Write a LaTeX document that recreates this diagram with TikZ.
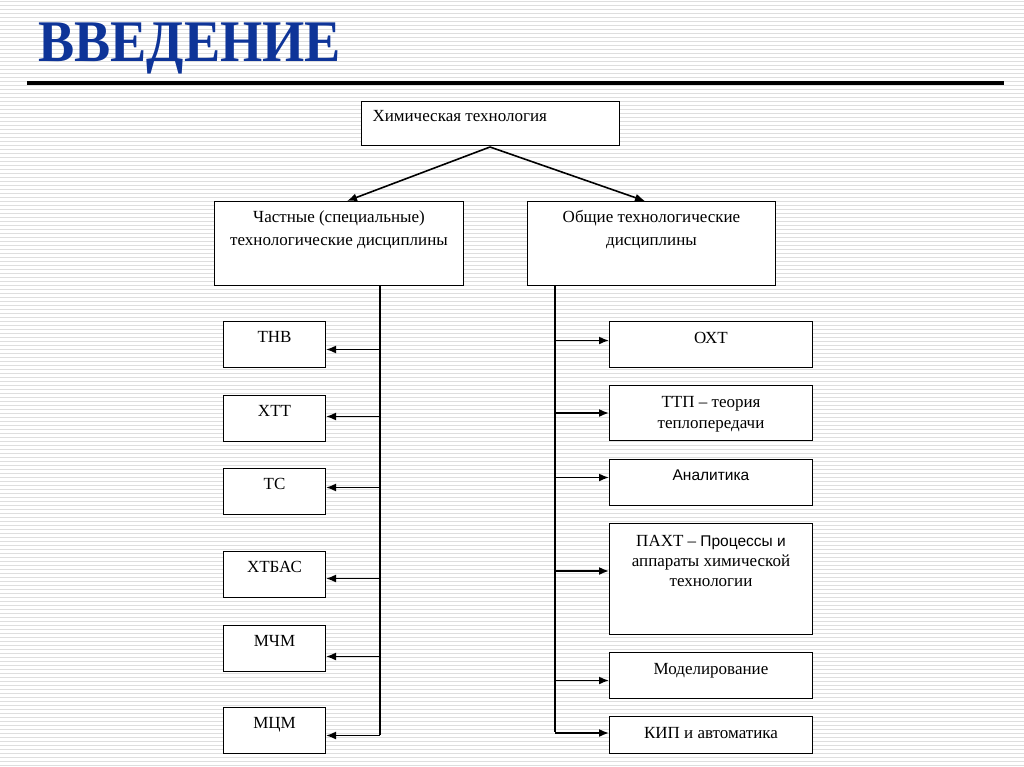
\documentclass[tikz,border=0pt]{standalone}
\usepackage{fontspec}
\setmainfont{Liberation Serif}
\newfontfamily\sansf{Liberation Sans}
\usetikzlibrary{arrows.meta}
\definecolor{titleblue}{RGB}{14,52,152}
\definecolor{stripe}{RGB}{222,222,222}
\tikzset{
  box/.style={draw=black, line width=1pt, fill=white, inner sep=0pt, anchor=north west, font=\fontsize{17}{21}\selectfont},
  conn/.style={draw=black, line width=1.6pt},
  arr/.style={conn, -{Latex[length=10pt,width=8pt]}},
}
\newcommand\tbx[7]{\node[box] (#1) at (#2,#3) {\parbox[t][#5pt][t]{#4pt}{\vspace*{#6pt}\centering #7\par}};}
\newcommand\sanspart[1]{{\sansf\fontsize{15.5}{21}\selectfont #1}}
\begin{document}
\begin{tikzpicture}[x=1pt,y=-1pt]
\useasboundingbox (0,0) rectangle (1024,767);
\fill[white] (0,0) rectangle (1024,767);
\foreach \k in {0,...,191} { \draw[stripe, line width=1.6pt] (0,{\k*4+1.5}) -- (1024,{\k*4+1.5}); }
% title
\node[anchor=base west, text=titleblue, font=\fontsize{59}{60}\bfseries\selectfont, inner sep=0pt, xscale=0.92] (title) at (38,62) {ВВЕДЕНИЕ};
\draw[line width=3.2pt] (27,83) coordinate (hl) -- (1004,83) coordinate (hr);
% top box
\node[box] (top) at (361,101) {\parbox[t][44pt][t]{258pt}{\vspace*{9pt}\hspace*{11pt}Химическая технология\par}};
% level 2
\tbx{L}{214}{201}{249}{84}{9}{Частные (специальные)\\[2pt] технологические дисциплины}
\tbx{R}{527}{201}{248}{84}{9}{Общие технологические\\[2pt] дисциплины}
\coordinate (tp) at (490,147);
\draw[arr] (tp) -- (L.north -| 347,0);
\draw[arr] (tp) -- (R.north -| 645,0);
% left column
\tbx{A1}{223}{321}{102}{46}{10}{ТНВ}
\tbx{A2}{223}{395}{102}{46}{10}{ХТТ}
\tbx{A3}{223}{468}{102}{46}{10}{ТС}
\tbx{A4}{223}{551}{102}{46}{10}{ХТБАС}
\tbx{A5}{223}{625}{102}{46}{10}{МЧМ}
\tbx{A6}{223}{707}{102}{46}{10}{МЦМ}
% right column
\tbx{B1}{609}{321}{203}{46}{10.5}{ОХТ}
\tbx{B2}{609}{385}{203}{55}{10.5}{ТТП – теория\\теплопередачи}
\tbx{B3}{609}{459}{203}{46}{10.5}{\sanspart{Аналитика}}
\tbx{B4}{609}{523}{203}{111}{11.5}{ПАХТ – \sanspart{Процессы и}\\[-1pt]аппараты химической\\[-1pt]технологии}
\tbx{B5}{609}{652}{203}{46}{10.5}{Моделирование}
\tbx{B6}{609}{716}{203}{37}{10.5}{КИП и автоматика}
% trunks
\coordinate (lt) at (L.south -| 380,0);
\coordinate (lb) at (380,735);
\coordinate (rt) at (R.south -| 555,0);
\coordinate (rb) at (555,732);
\draw[conn] (lt) -- (lb);
\draw[conn] (rt) -- (rb);
% left arrows
\path ([yshift=-5pt]A1.east) coordinate (a1)
      ([yshift=2pt]A2.east) coordinate (a2)
      ([yshift=4pt]A3.east) coordinate (a3)
      ([yshift=-4pt]A4.east) coordinate (a4)
      ([yshift=-8pt]A5.east) coordinate (a5)
      ([yshift=-5pt]A6.east) coordinate (a6);
\foreach \c in {a1,a2,a3,a4,a5,a6} { \draw[arr] (lt |- \c) -- (\c); }
% right arrows
\path ([yshift=4pt]B1.west) coordinate (b1)
      ([yshift=0pt]B2.west) coordinate (b2)
      ([yshift=5pt]B3.west) coordinate (b3)
      ([yshift=8pt]B4.west) coordinate (b4)
      ([yshift=-5pt]B5.west) coordinate (b5)
      ([yshift=2pt]B6.west) coordinate (b6);
\foreach \c in {b1,b2,b3,b4,b5,b6} { \draw[arr] (rt |- \c) -- (\c); }
\end{tikzpicture}
\end{document}
